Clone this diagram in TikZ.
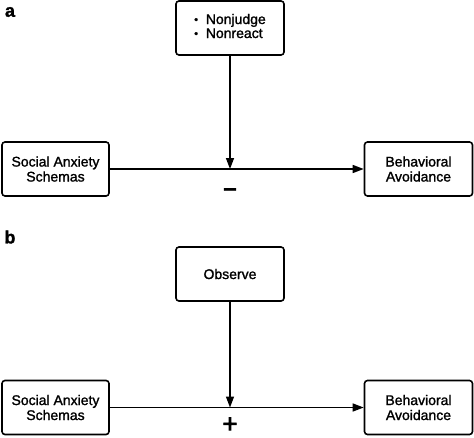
\documentclass[tikz,border=0pt]{standalone}
\usepackage{fontspec}
\setmainfont{Liberation Sans}[FakeBold=1.5]
\newfontfamily\semib{Liberation Sans}[FakeBold=1.4]
\newfontfamily\plusfont{Liberation Sans}[FakeBold=2.5]
\usetikzlibrary{arrows.meta}
\tikzset{
  box/.style={draw, line width=1.6pt, rounded corners=3pt, minimum width=107pt, minimum height=54pt, inner sep=0pt, align=center, font=\semib\fontsize{14}{15}\selectfont},
  conn/.style={line width=1.4pt, -{Triangle[length=11pt,width=8pt]}},
  panel/.style={font=\bfseries\fontsize{18}{18}\selectfont, anchor=center},
  sign/.style={font=\bfseries\fontsize{24}{24}\selectfont}
}
\newcommand{\blt}{\raisebox{0.1ex}{\fontsize{11}{11}\selectfont\textbullet}\ \ }
\begin{document}
\begin{tikzpicture}[x=1pt,y=-1pt]
\useasboundingbox (0,0) rectangle (474,437);
% panel a
\node[panel] (la) at (10,12) {a};
\node[box, minimum width=108pt] (moda) at (230,28) {\begin{tabular}{@{}l@{}}\blt Nonjudge\\[-1pt]\blt Nonreact\end{tabular}};
\node[box] (sasa) at (55.5,169) {Social Anxiety\\Schemas};
\node[box, minimum width=108pt] (baa) at (418.5,169) {Behavioral\\Avoidance};
\coordinate (ja) at (230,169);
\draw[conn] (sasa.east) -- (baa.west);
\draw[conn] (moda.south) -- (ja);
\node[sign] (ma) at (230,192) {–};
% panel b
\node[panel] (lb) at (10,237) {b};
\node[box, minimum width=108pt] (modb) at (230,274) {Observe};
\node[box] (sasb) at (55.5,407.5) {Social Anxiety\\Schemas};
\node[box, minimum width=108pt] (bab) at (418.5,407.5) {Behavioral\\Avoidance};
\coordinate (jb) at (230,407.5);
\draw[conn] (sasb.east) -- (bab.west);
\draw[conn] (modb.south) -- (jb);
\node[font=\plusfont\fontsize{26}{26}\selectfont, inner sep=0pt] (pb) at (230,425) {+};
\end{tikzpicture}
\end{document}
